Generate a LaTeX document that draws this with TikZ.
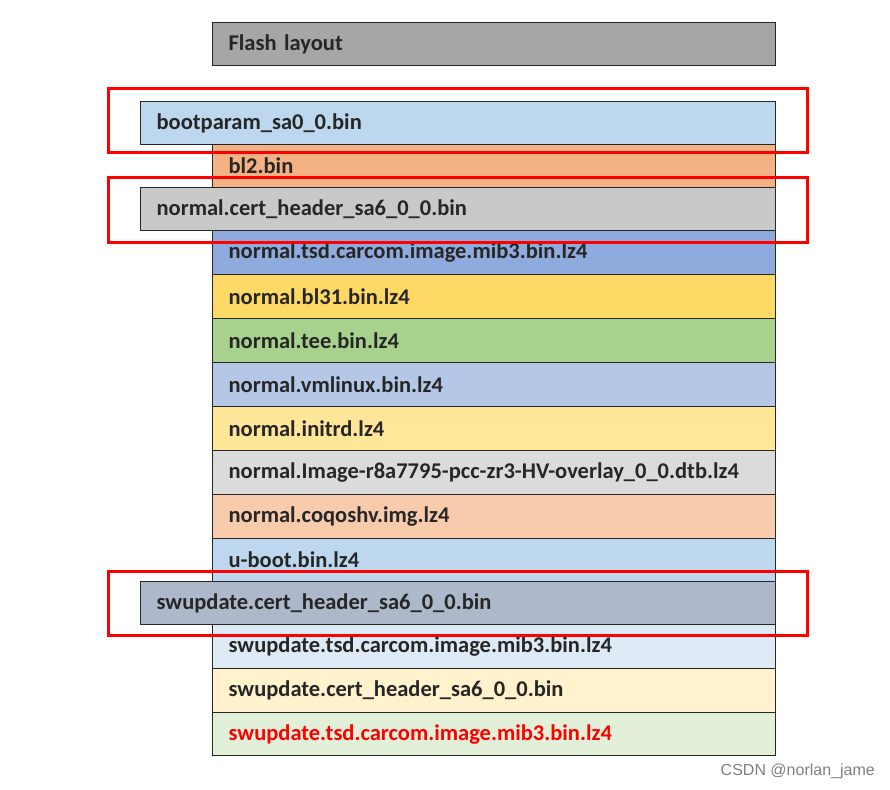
\documentclass[tikz,border=0pt]{standalone}
\usepackage{fontspec}
\setmainfont{Carlito}
\newfontfamily\wmfont{Liberation Sans}
\usetikzlibrary{positioning}
\definecolor{hdgray}{RGB}{166,166,166}
\definecolor{pblue}{RGB}{189,215,238}
\definecolor{porange}{RGB}{244,177,131}
\definecolor{pgray}{RGB}{201,201,201}
\definecolor{dblue}{RGB}{143,170,220}
\definecolor{pyellow}{RGB}{255,217,102}
\definecolor{pgreen}{RGB}{169,209,142}
\definecolor{lblue}{RGB}{180,199,231}
\definecolor{lyellow}{RGB}{255,230,153}
\definecolor{lgray}{RGB}{219,219,219}
\definecolor{lorange}{RGB}{248,203,173}
\definecolor{sblue}{RGB}{173,185,202}
\definecolor{vblue}{RGB}{222,235,247}
\definecolor{vyellow}{RGB}{255,242,204}
\definecolor{vgreen}{RGB}{226,240,217}
\definecolor{hired}{RGB}{255,0,0}

\begin{document}
\begin{tikzpicture}[x=1pt,y=-1pt,
  slot/.style={draw=black!85,line width=1.2pt,anchor=north west,
    minimum height=43pt,text width=531pt,inner xsep=16pt,inner ysep=0pt,
    align=left,font=\fontsize{22.5}{26}\selectfont\bfseries,text=black!85},
  wide/.style={slot,text width=603pt},
  hilite/.style={draw=hired,line width=3pt,anchor=north west,inner sep=0pt}]

  \useasboundingbox (0,0) rectangle (890,789);

  \node[slot,fill=hdgray] (flash) at (212,22) {Flash layout};

  % partitions
  \node[slot,fill=porange] (bl2) at (212,144) {bl2.bin};
  \node[slot,fill=dblue,minimum height=44pt] (ntsd) at (212,230) {normal.tsd.carcom.image.mib3.bin.lz4};
  \node[slot,fill=pyellow,minimum height=44pt] (bl31) at (212,274) {normal.bl31.bin.lz4};
  \node[slot,fill=pgreen,minimum height=44pt] (tee) at (212,318) {normal.tee.bin.lz4};
  \node[slot,fill=lblue,minimum height=44pt] (vmlinux) at (212,362) {normal.vmlinux.bin.lz4};
  \node[slot,fill=lyellow,minimum height=44pt] (initrd) at (212,406) {normal.initrd.lz4};
  \node[slot,fill=lgray,minimum height=44pt] (dtb) at (212,450) {normal.Image-r8a7795-pcc-zr3-HV-overlay\_0\_0.dtb.lz4};
  \node[slot,fill=lorange,minimum height=44pt] (coqos) at (212,494) {normal.coqoshv.img.lz4};
  \node[slot,fill=pblue] (uboot) at (212,538) {u-boot.bin.lz4};
  \node[slot,fill=vblue,minimum height=44pt] (swtsd) at (212,624) {swupdate.tsd.carcom.image.mib3.bin.lz4};
  \node[slot,fill=vyellow,minimum height=44pt] (swcert) at (212,668) {swupdate.cert\_header\_sa6\_0\_0.bin};
  \node[slot,fill=vgreen,text=hired] (swtsdb) at (212,712) {swupdate.tsd.carcom.image.mib3.bin.lz4};

  % headers sticking out on the left
  \node[wide,fill=pblue] (boot) at (140,101) {bootparam\_sa0\_0.bin};
  \node[wide,fill=pgray] (ncert) at (140,187) {normal.cert\_header\_sa6\_0\_0.bin};
  \node[wide,fill=sblue] (swhdr) at (140,581) {swupdate.cert\_header\_sa6\_0\_0.bin};

  % red marks
  \node[hilite,minimum width=699pt,minimum height=64pt] (mark1) at (107,87) {};
  \node[hilite,minimum width=699pt,minimum height=65pt] (mark2) at (107,176) {};
  \node[hilite,minimum width=699pt,minimum height=64pt] (mark3) at (107,570) {};

  \node[anchor=east,font=\wmfont\fontsize{16}{18}\selectfont,text=black!50,inner sep=0pt] (wm) at (875,771) {CSDN @norlan\_jame};
\end{tikzpicture}
\end{document}
